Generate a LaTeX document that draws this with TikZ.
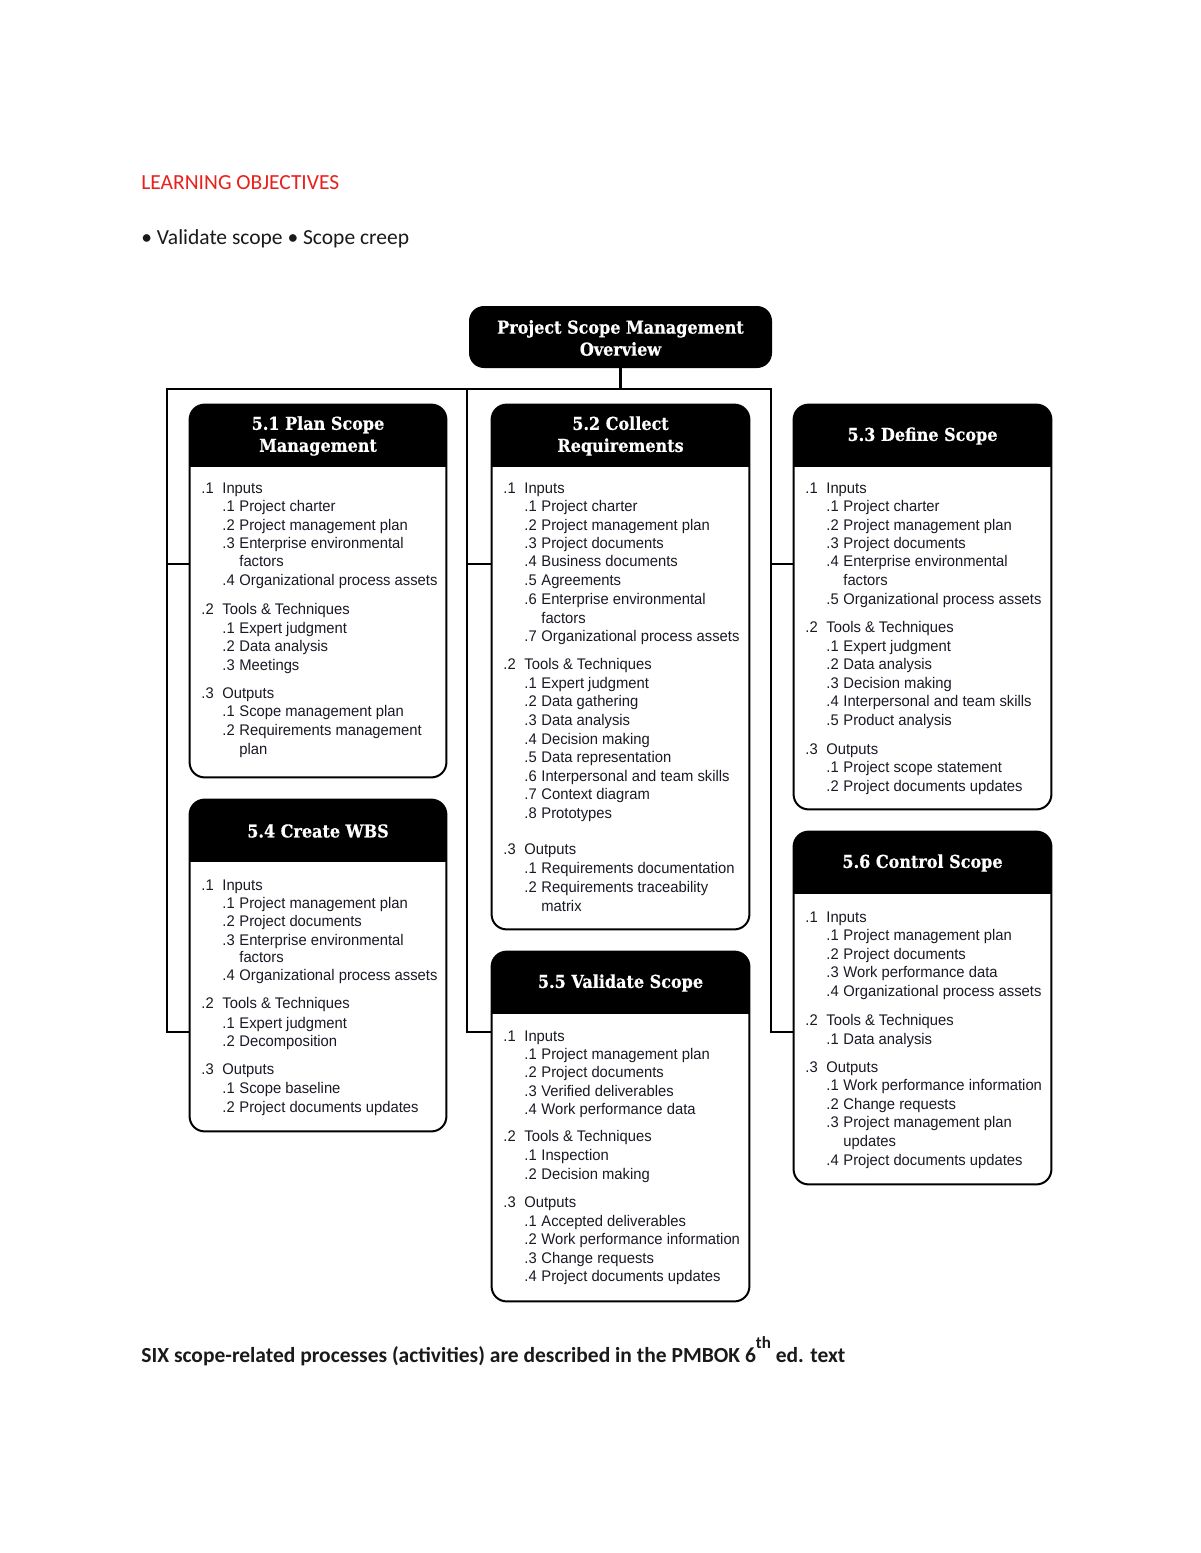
\documentclass[tikz,border=0pt]{standalone}
\usepackage{fontspec}
\usetikzlibrary{fit}
\newfontfamily\itemfont{Liberation Sans}[FakeStretch=0.96]
\newfontfamily\headfont{DejaVu Serif}[FakeStretch=0.9, BoldFeatures={FakeBold=0.6}]
\newfontfamily\docfont{Carlito}
\definecolor{itemcol}{HTML}{1A1A24}
\definecolor{redcol}{HTML}{E8211D}
\definecolor{doccol}{HTML}{1A1A1A}

\newcommand\procbox[6]{%
  \node[boxbg, fit={(#2,#3) (#4,#5)}] (#1) {};
  \begin{scope}
    \clip[rounded corners=7.5pt] (#2,#3) rectangle (#4,#5);
    \fill[black] (#2,#3) rectangle (#4,#3+62);
  \end{scope}
  \draw[line width=1pt, rounded corners=7.5pt] (#1.south west) rectangle (#1.north east);
  \node[ttl] (#1-title) at ({(#2+#4)/2},#3+31) {#6};
}
\newcommand\itemlist[3]{%
  \foreach \lv/\yy/\numb/\txt [count=\i] in {#3}{%
    \ifcase\lv
      \node[itm] (#1n\i) at (#2+11,\yy+5) {\numb};
      \node[itm] (#1t\i) at (#2+32,\yy+5) {\txt};
    \or
      \node[itm] (#1n\i) at (#2+32,\yy+5) {\numb};
      \node[itm] (#1t\i) at (#2+49,\yy+5) {\txt};
    \or
      \node[itm] (#1t\i) at (#2+49,\yy+5) {\txt};
    \fi}}

\begin{document}
\begin{tikzpicture}[x=0.5pt,y=-0.5pt,
  conn/.style={line width=1.3pt, line join=miter},
  boxbg/.style={fill=white, inner sep=0pt, rounded corners=7.5pt},
  ttl/.style={text=white, font=\headfont\bfseries\fontsize{8.9}{11}\selectfont, align=center, inner sep=0},
  itm/.style={anchor=base west, inner sep=0, font=\itemfont\fontsize{7.7}{9}\selectfont, text=itemcol},
  doc/.style={anchor=base west, inner sep=0, font=\docfont\fontsize{10.75}{13}\selectfont, text=doccol}]
\useasboundingbox[fill=white] (0,0) rectangle (1200,1553);

% header texts
\node[doc, text=redcol] (lo) at (141,189.5) {LEARNING OBJECTIVES};
\node[doc] (bul) at (141,244) {• Validate scope • Scope creep};

% top box
\node[fit={(469,306) (772,368)}, inner sep=0pt, fill=black, rounded corners=7.5pt] (top) {};
\node[ttl] (toptitle) at (620.5,338) {Project Scope Management\\Overview};

% connector coordinates
\coordinate (c1t) at (167,389); \coordinate (c1m) at (167,564); \coordinate (c1b) at (167,1032);
\coordinate (c2t) at (467,389); \coordinate (c2m) at (467,564); \coordinate (c2b) at (467,1032);
\coordinate (c3t) at (771,389); \coordinate (c3m) at (771,564); \coordinate (c3b) at (771,1032);

% process boxes
\procbox{b1}{190}{405}{446}{777}{5.1 Plan Scope\\Management}
\procbox{b2}{492}{405}{749}{929}{5.2 Collect\\Requirements}
\procbox{b3}{794}{405}{1051}{809}{5.3 Define Scope}
\procbox{b4}{190}{800}{446}{1131}{5.4 Create WBS}
\procbox{b5}{492}{952}{749}{1301}{5.5 Validate Scope}
\procbox{b6}{794}{832}{1051}{1184}{5.6 Control Scope}

% connectors
\draw[conn] (top.south) -- (top.south |- c1t);
\draw[conn] (b4.west |- c1b) -- (c1b) -- (c1t) -- (c3t) -- (c3b) -- (b6.west |- c3b);
\draw[conn] (c2t) -- (c2b) -- (b5.west |- c2b);
\draw[conn] (c1m) -- (b1.west |- c1m);
\draw[conn] (c2m) -- (b2.west |- c2m);
\draw[conn] (c3m) -- (b3.west |- c3m);

% item lists
\itemlist{p1}{190}{0/488/.1/Inputs, 1/506/.1/Project charter, 1/525/.2/Project management plan,
 1/543/.3/Enterprise environmental, 2/561//factors, 1/580/.4/Organizational process assets,
 0/609/.2/Tools \& Techniques, 1/628/.1/Expert judgment, 1/646/.2/Data analysis, 1/665/.3/Meetings,
 0/693/.3/Outputs, 1/711/.1/Scope management plan, 1/730/.2/Requirements management, 2/749//plan}

\itemlist{p2}{492}{0/488/.1/Inputs, 1/506/.1/Project charter, 1/525/.2/Project management plan,
 1/543/.3/Project documents, 1/561/.4/Business documents, 1/580/.5/Agreements,
 1/599/.6/Enterprise environmental, 2/618//factors, 1/636/.7/Organizational process assets,
 0/664/.2/Tools \& Techniques, 1/683/.1/Expert judgment, 1/701/.2/Data gathering, 1/720/.3/Data analysis,
 1/739/.4/Decision making, 1/757/.5/Data representation, 1/776/.6/Interpersonal and team skills,
 1/794/.7/Context diagram, 1/813/.8/Prototypes,
 0/849/.3/Outputs, 1/868/.1/Requirements documentation, 1/887/.2/Requirements traceability, 2/906//matrix}

\itemlist{p3}{794}{0/488/.1/Inputs, 1/506/.1/Project charter, 1/525/.2/Project management plan,
 1/543/.3/Project documents, 1/561/.4/Enterprise environmental, 2/580//factors,
 1/599/.5/Organizational process assets,
 0/627/.2/Tools \& Techniques, 1/646/.1/Expert judgment, 1/664/.2/Data analysis, 1/683/.3/Decision making,
 1/701/.4/Interpersonal and team skills, 1/720/.5/Product analysis,
 0/749/.3/Outputs, 1/767/.1/Project scope statement, 1/786/.2/Project documents updates}

\itemlist{p4}{190}{0/885/.1/Inputs, 1/903/.1/Project management plan, 1/921/.2/Project documents,
 1/940/.3/Enterprise environmental, 2/957//factors, 1/975/.4/Organizational process assets,
 0/1003/.2/Tools \& Techniques, 1/1023/.1/Expert judgment, 1/1041/.2/Decomposition,
 0/1069/.3/Outputs, 1/1088/.1/Scope baseline, 1/1107/.2/Project documents updates}

\itemlist{p5}{492}{0/1036/.1/Inputs, 1/1054/.1/Project management plan, 1/1072/.2/Project documents,
 1/1091/.3/Verified deliverables, 1/1109/.4/Work performance data,
 0/1136/.2/Tools \& Techniques, 1/1155/.1/Inspection, 1/1174/.2/Decision making,
 0/1202/.3/Outputs, 1/1221/.1/Accepted deliverables, 1/1239/.2/Work performance information,
 1/1258/.3/Change requests, 1/1276/.4/Project documents updates}

\itemlist{p6}{794}{0/917/.1/Inputs, 1/935/.1/Project management plan, 1/954/.2/Project documents,
 1/972/.3/Work performance data, 1/991/.4/Organizational process assets,
 0/1020/.2/Tools \& Techniques, 1/1039/.1/Data analysis,
 0/1067/.3/Outputs, 1/1085/.1/Work performance information, 1/1104/.2/Change requests,
 1/1122/.3/Project management plan, 2/1141//updates, 1/1160/.4/Project documents updates}

% footer
\node[doc, font=\docfont\bfseries\fontsize{10.75}{13}\selectfont] (foot) at (141,1362)
  {SIX scope-related processes (activities) are described in the PMBOK 6\raisebox{7pt}{\fontsize{8.5}{9}\selectfont th} ed. text};
\end{tikzpicture}
\end{document}
